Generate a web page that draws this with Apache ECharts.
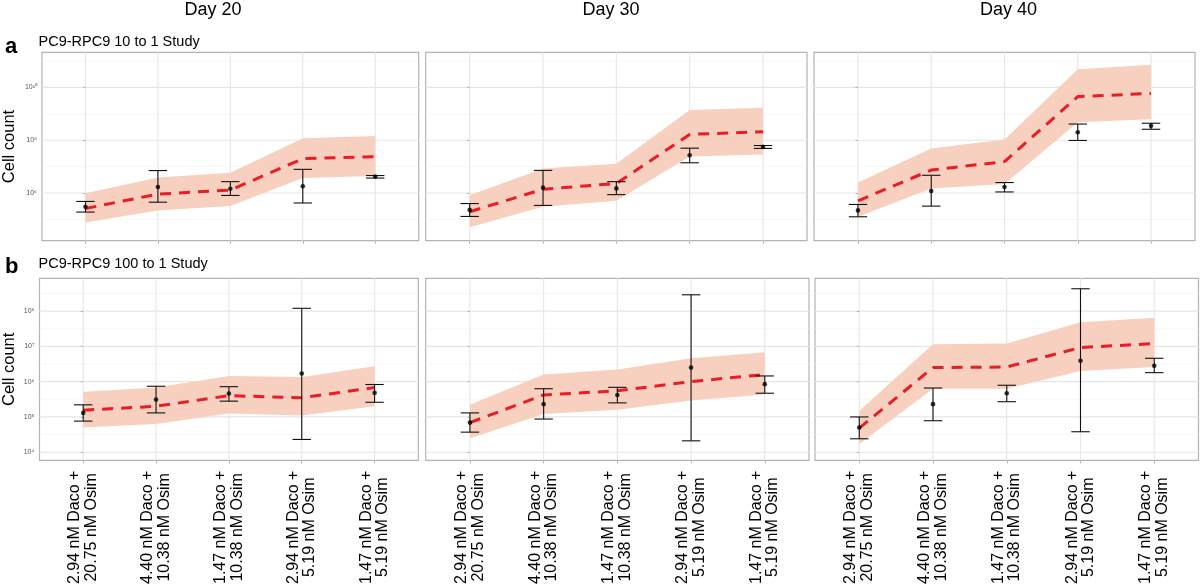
<!DOCTYPE html>
<html><head><meta charset="utf-8">
<script src="https://cdn.jsdelivr.net/npm/echarts@6/dist/echarts.min.js"></script>
<style>html,body{margin:0;padding:0;background:#fff}#c{width:1200px;height:587px}</style>
</head><body><div id="c"></div>
<script>
// ---------- labels ----------
const categories = [
  '2.94 nM Daco +\n20.75 nM Osim',
  '4.40 nM Daco +\n10.38 nM Osim',
  '1.47 nM Daco +\n10.38 nM Osim',
  '2.94 nM Daco +\n5.19 nM Osim',
  '1.47 nM Daco +\n5.19 nM Osim'
];
const days = ['Day 20', 'Day 30', 'Day 40'];
const studies = ['PC9-RPC9 10 to 1 Study', 'PC9-RPC9 100 to 1 Study'];
const rowLetters = ['a', 'b'];
const yTitle = 'Cell count';
// y ticks (powers of ten) and minor grid (powers of ten, exponent)
const topMajorExp = [6, 8, 10];
const topMinorExp = [5, 7, 9, 11];
const bottomMajorExp = [4, 5, 6, 7, 8];
const bottomMinorExp = [4.5, 5.5, 6.5, 7.5, 8.5];

// ---------- data: (a) 10 to 1 study ----------
const a20_mean   = [3.0e5, 1.7e6, 1.45e6, 1.8e6, 4.2e6];
const a20_errLo  = [1.9e5, 4.5e5, 8.1e5, 4.2e5, 3.7e6];
const a20_errHi  = [4.8e5, 7.1e6, 2.7e6, 7.9e6, 4.6e6];
const a20_pred   = [2.6e5, 9.1e5, 1.3e6, 2.0e7, 2.4e7];
const a20_bandLo = [7.6e4, 2.2e5, 3.2e5, 3.7e6, 4.4e6];
const a20_bandHi = [9.8e5, 3.9e6, 5.9e6, 1.2e8, 1.45e8];

const a30_mean   = [2.3e5, 1.6e6, 1.5e6, 2.7e7, 5.6e7];
const a30_errLo  = [1.3e5, 3.4e5, 8.7e5, 1.4e7, 4.9e7];
const a30_errHi  = [4.0e5, 7.2e6, 2.7e6, 5.0e7, 6.3e7];
const a30_pred   = [1.95e5, 1.4e6, 2.3e6, 1.66e8, 2.1e8];
const a30_bandLo = [5.1e4, 3.0e5, 5.1e5, 2.4e7, 2.9e7];
const a30_bandHi = [8.3e5, 8.5e6, 1.3e7, 1.4e9, 1.7e9];

const a40_mean   = [2.2e5, 1.2e6, 1.7e6, 2.0e8, 3.5e8];
const a40_errLo  = [1.26e5, 3.2e5, 1.1e6, 9.8e7, 2.6e8];
const a40_errHi  = [3.7e5, 4.7e6, 2.5e6, 4.1e8, 4.4e8];
const a40_pred   = [5.1e5, 7.4e6, 1.55e7, 4.5e9, 5.9e9];
const a40_bandLo = [1.26e5, 1.5e6, 2.2e6, 4.8e8, 6.2e8];
const a40_bandHi = [2.5e6, 4.9e7, 1.07e8, 4.9e10, 7.2e10];

// ---------- data: (b) 100 to 1 study ----------
const b20_mean   = [1.3e5, 3.1e5, 4.6e5, 1.7e6, 4.8e5];
const b20_errLo  = [7.6e4, 1.3e5, 2.8e5, 2.3e4, 2.6e5];
const b20_errHi  = [2.2e5, 7.4e5, 7.2e5, 1.2e8, 8.3e5];
const b20_pred   = [1.55e5, 2.0e5, 4.0e5, 3.5e5, 6.8e5];
const b20_bandLo = [5.0e4, 6.3e4, 1.26e5, 1.1e5, 2.0e5];
const b20_bandHi = [5.2e5, 6.8e5, 1.45e6, 1.35e6, 2.75e6];

const b30_mean   = [6.9e4, 2.3e5, 4.2e5, 2.5e6, 8.5e5];
const b30_errLo  = [3.7e4, 8.7e4, 2.5e5, 2.1e4, 4.7e5];
const b30_errHi  = [1.3e5, 6.3e5, 6.9e5, 2.9e8, 1.45e6];
const b30_pred   = [6.9e4, 4.2e5, 5.5e5, 1.0e6, 1.6e6];
const b30_bandLo = [2.5e4, 1.2e5, 1.6e5, 2.9e5, 4.3e5];
const b30_bandHi = [2.2e5, 1.6e6, 2.2e6, 4.6e6, 6.8e6];

const b40_mean   = [5.0e4, 2.3e5, 4.7e5, 3.9e6, 2.8e6];
const b40_errLo  = [2.4e4, 7.8e4, 2.7e5, 3.8e4, 1.8e6];
const b40_errHi  = [1.0e5, 6.6e5, 7.9e5, 4.3e8, 4.6e6];
const b40_pred   = [4.8e4, 2.5e6, 2.6e6, 9.3e6, 1.2e7];
const b40_bandLo = [1.7e4, 6.3e5, 6.3e5, 2.0e6, 2.6e6];
const b40_bandHi = [1.5e5, 1.15e7, 1.2e7, 4.8e7, 6.5e7];

// ---------- assembly ----------
const panelsData = [
  [
    {mean:a20_mean, lo:a20_errLo, hi:a20_errHi, pred:a20_pred, bLo:a20_bandLo, bHi:a20_bandHi},
    {mean:a30_mean, lo:a30_errLo, hi:a30_errHi, pred:a30_pred, bLo:a30_bandLo, bHi:a30_bandHi},
    {mean:a40_mean, lo:a40_errLo, hi:a40_errHi, pred:a40_pred, bLo:a40_bandLo, bHi:a40_bandHi}
  ],
  [
    {mean:b20_mean, lo:b20_errLo, hi:b20_errHi, pred:b20_pred, bLo:b20_bandLo, bHi:b20_bandHi},
    {mean:b30_mean, lo:b30_errLo, hi:b30_errHi, pred:b30_pred, bLo:b30_bandLo, bHi:b30_bandHi},
    {mean:b40_mean, lo:b40_errLo, hi:b40_errHi, pred:b40_pred, bLo:b40_bandLo, bHi:b40_bandHi}
  ]
];

// layout (pixels)
const rowLayout = [
  {top: 52.3, height: 188.4, yMin: 4.195, yMax: 11.33, major: topMajorExp, minor: topMinorExp, nameGap: 24},
  {top: 278.3, height: 188.4, yMin: 3.77, yMax: 8.93, major: bottomMajorExp, minor: bottomMinorExp, nameGap: 21.5}
];
const colLayout = [
  [{left: 37.7, width: 381}, {left: 425.7, width: 381.3}, {left: 814, width: 381}],
  [{left: 35, width: 383.3}, {left: 425.7, width: 383.3}, {left: 815, width: 383.5}]
];

const FONT = '"Liberation Sans", Arial, Helvetica, sans-serif';
const SUP = {'0':'⁰','1':'¹','2':'²','3':'³','4':'⁴','5':'⁵','6':'⁶','7':'⁷','8':'⁸','9':'⁹','-':'⁻'};
const supText = n => String(n).split('').map(ch => SUP[ch] || ch).join('');
const lg = v => Math.log10(v);
const xIdx = [0, 1, 2, 3, 4];

const grids = [], xAxes = [], yAxes = [], series = [];

for (let r = 0; r < 2; r++) {
  for (let c = 0; c < 3; c++) {
    const gi = grids.length;
    const R = rowLayout[r], C = colLayout[r][c], D = panelsData[r][c];
    grids.push({left: C.left, top: R.top, width: C.width, height: R.height, show: true,
      borderColor: '#b3b3b3', borderWidth: 1.2, backgroundColor: 'transparent', containLabel: false});
    xAxes.push({
      gridIndex: gi, type: 'value', min: -0.6, max: 4.6,
      splitLine: {show: false}, axisLine: {show: false},
      axisTick: {show: true, customValues: xIdx, length: 3, lineStyle: {color: '#b3b3b3', width: 1}},
      axisLabel: r === 1 ? {
        show: true, customValues: xIdx, formatter: v => categories[Math.round(v)],
        rotate: 90, align: 'center', verticalAlign: 'middle', margin: 67,
        fontSize: 16, lineHeight: 16.6, color: '#000', fontFamily: FONT
      } : {show: false}
    });
    yAxes.push({
      gridIndex: gi, type: 'value', min: R.yMin, max: R.yMax,
      splitLine: {show: false}, axisLine: {show: false},
      axisTick: {show: true, customValues: R.major, length: 2.5, lineStyle: {color: '#b3b3b3', width: 1}},
      axisLabel: {show: c === 0, customValues: R.major, formatter: v => '10' + supText(Math.round(v)),
        fontSize: 7, color: '#555', margin: 5, fontFamily: FONT},
      name: c === 0 ? yTitle : '', nameLocation: 'middle', nameRotate: 90, nameGap: R.nameGap,
      nameTextStyle: {fontSize: 16.5, color: '#000', fontFamily: FONT}
    });

    // grid lines: [orientation(0=h,1=v), position, major?]
    const gridData = [];
    R.minor.forEach(v => gridData.push([0, v, 0]));
    R.major.forEach(v => gridData.push([0, v, 1]));
    xIdx.forEach(v => gridData.push([1, v, 1]));
    series.push({
      type: 'custom', xAxisIndex: gi, yAxisIndex: gi, silent: true, z: 0,
      data: gridData, encode: {x: 2, y: 2},
      renderItem: (params, api) => {
        const cs = params.coordSys;
        const o = api.value(0), p = api.value(1), maj = api.value(2);
        const style = {stroke: maj ? '#e6e6e6' : '#f1f1f1', lineWidth: maj ? 1.1 : 0.6};
        if (o === 0) {
          const y = api.coord([0, p])[1];
          if (y < cs.y || y > cs.y + cs.height) return null;
          return {type: 'line', shape: {x1: cs.x, y1: y, x2: cs.x + cs.width, y2: y}, style};
        }
        const x = api.coord([p, R.yMin])[0];
        return {type: 'line', shape: {x1: x, y1: cs.y, x2: x, y2: cs.y + cs.height}, style};
      }
    });

    // ribbon (prediction interval)
    series.push({
      type: 'custom', xAxisIndex: gi, yAxisIndex: gi, silent: true, z: 1,
      data: xIdx.map(i => [i, lg(D.bLo[i]), lg(D.bHi[i])]),
      encode: {x: 0, y: [1, 2]},
      renderItem: (params, api) => {
        if (params.dataIndex !== 0) return null;
        const up = xIdx.map(i => api.coord([i, lg(D.bHi[i])]));
        const dn = xIdx.slice().reverse().map(i => api.coord([i, lg(D.bLo[i])]));
        return {type: 'polygon', shape: {points: up.concat(dn)}, style: {fill: '#f8d0bf'}};
      }
    });

    // dashed prediction line
    series.push({
      type: 'line', xAxisIndex: gi, yAxisIndex: gi, silent: true, z: 3,
      data: xIdx.map(i => [i, lg(D.pred[i])]), showSymbol: false, symbol: 'none',
      lineStyle: {color: '#ea1d25', width: 3, type: [11, 8]}
    });

    // error bars
    series.push({
      type: 'custom', xAxisIndex: gi, yAxisIndex: gi, silent: true, z: 4,
      data: xIdx.map(i => [i, lg(D.lo[i]), lg(D.hi[i])]),
      encode: {x: 0, y: [1, 2]},
      renderItem: (params, api) => {
        const a = api.coord([api.value(0), api.value(1)]);
        const b = api.coord([api.value(0), api.value(2)]);
        const hw = 9.2;
        const st = {stroke: '#111', lineWidth: 1.1};
        return {type: 'group', children: [
          {type: 'line', shape: {x1: a[0], y1: a[1], x2: b[0], y2: b[1]}, style: st},
          {type: 'line', shape: {x1: a[0] - hw, y1: a[1], x2: a[0] + hw, y2: a[1]}, style: st},
          {type: 'line', shape: {x1: b[0] - hw, y1: b[1], x2: b[0] + hw, y2: b[1]}, style: st}
        ]};
      }
    });

    // mean points
    series.push({
      type: 'scatter', xAxisIndex: gi, yAxisIndex: gi, silent: true, z: 5,
      data: xIdx.map(i => [i, lg(D.mean[i])]), symbolSize: 4.6,
      itemStyle: {color: '#000'}
    });
  }
}

const titles = [
  {text: days[0], left: 213, top: 1, textAlign: 'center', textStyle: {fontSize: 18, fontWeight: 'normal', color: '#000', fontFamily: FONT}, padding: 0},
  {text: days[1], left: 611, top: 1, textAlign: 'center', textStyle: {fontSize: 18, fontWeight: 'normal', color: '#000', fontFamily: FONT}, padding: 0},
  {text: days[2], left: 1008.5, top: 1, textAlign: 'center', textStyle: {fontSize: 18, fontWeight: 'normal', color: '#000', fontFamily: FONT}, padding: 0},
  {text: rowLetters[0], left: 5, top: 36, textStyle: {fontSize: 22, fontWeight: 'bold', color: '#000', fontFamily: FONT}, padding: 0},
  {text: studies[0], left: 38.5, top: 34, textStyle: {fontSize: 14.5, fontWeight: 'normal', color: '#000', fontFamily: FONT}, padding: 0},
  {text: rowLetters[1], left: 5, top: 256, textStyle: {fontSize: 22, fontWeight: 'bold', color: '#000', fontFamily: FONT}, padding: 0},
  {text: studies[1], left: 38.5, top: 256.5, textStyle: {fontSize: 14.5, fontWeight: 'normal', color: '#000', fontFamily: FONT}, padding: 0}
];

const chart = echarts.init(document.getElementById('c'), null, {renderer: 'canvas'});
chart.setOption({
  animation: false,
  backgroundColor: '#fff',
  title: titles,
  grid: grids, xAxis: xAxes, yAxis: yAxes, series: series
});
</script></body></html>
